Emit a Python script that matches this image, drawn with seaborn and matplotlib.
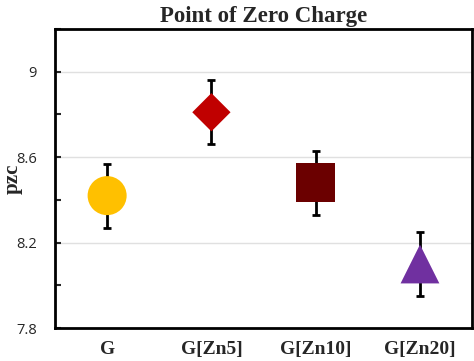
import pandas as pd
import matplotlib.pyplot as plt
import seaborn as sns
from matplotlib.ticker import MultipleLocator

# values
samples = ["G", "G[Zn5]", "G[Zn10]", "G[Zn20]"]
pzc = [8.42, 8.81, 8.48, 8.10]
pzc_err = [0.15, 0.15, 0.15, 0.15]
colors = ["#FFC000", "#C00000", "#6B0000", "#7030A0"]
markers = ["o", "D", "s", "^"]

df = pd.DataFrame({"sample": samples, "pzc": pzc, "err": pzc_err})

sns.set_style("white")

fig = plt.figure(figsize=(4.74, 3.61), dpi=100)
ax = fig.add_axes([0.116, 0.091, 0.880, 0.829])

# error bars behind the markers
ax.errorbar(range(len(samples)), df["pzc"], yerr=df["err"], fmt="none",
            ecolor="black", elinewidth=2, capsize=3, capthick=2, zorder=1)

sns.scatterplot(data=df, x="sample", y="pzc", hue="sample", style="sample",
                palette=dict(zip(samples, colors)),
                markers=dict(zip(samples, markers)),
                s=[790, 380, 790, 780], linewidth=0, legend=False,
                ax=ax, zorder=3)

ax.set_xlim(-0.5, 3.5)
ax.set_ylim(7.8, 9.2)
ax.yaxis.set_major_locator(MultipleLocator(0.4))
ax.yaxis.set_minor_locator(MultipleLocator(0.2))
ax.set_yticks([7.8, 8.2, 8.6, 9.0])
ax.set_yticklabels(["7.8", "8.2", "8.6", "9"], family="Open Sans", fontsize=10.5)
ax.tick_params(axis="y", which="both", direction="in", length=4, width=1.5,
               left=True, pad=13)
ax.tick_params(axis="x", length=0, pad=9)
for lbl in ax.get_xticklabels():
    lbl.set_fontfamily("Liberation Serif")
    lbl.set_fontweight("bold")
    lbl.set_fontsize(14)

ax.grid(axis="y", which="major", color="#e0e0e0", linewidth=1)
ax.set_axisbelow(True)
for sp in ax.spines.values():
    sp.set_color("black")
    sp.set_linewidth(2)

ax.set_xlabel("")
ax.set_ylabel("pzc", family="Liberation Serif", fontweight="bold",
              fontsize=15, labelpad=1)
ax.yaxis.set_label_coords(-0.078, 0.5)
ax.set_title("Point of Zero Charge", family="Liberation Serif",
             fontweight="bold", fontsize=16.5, pad=5)

fig.savefig("out.png", dpi=100)
